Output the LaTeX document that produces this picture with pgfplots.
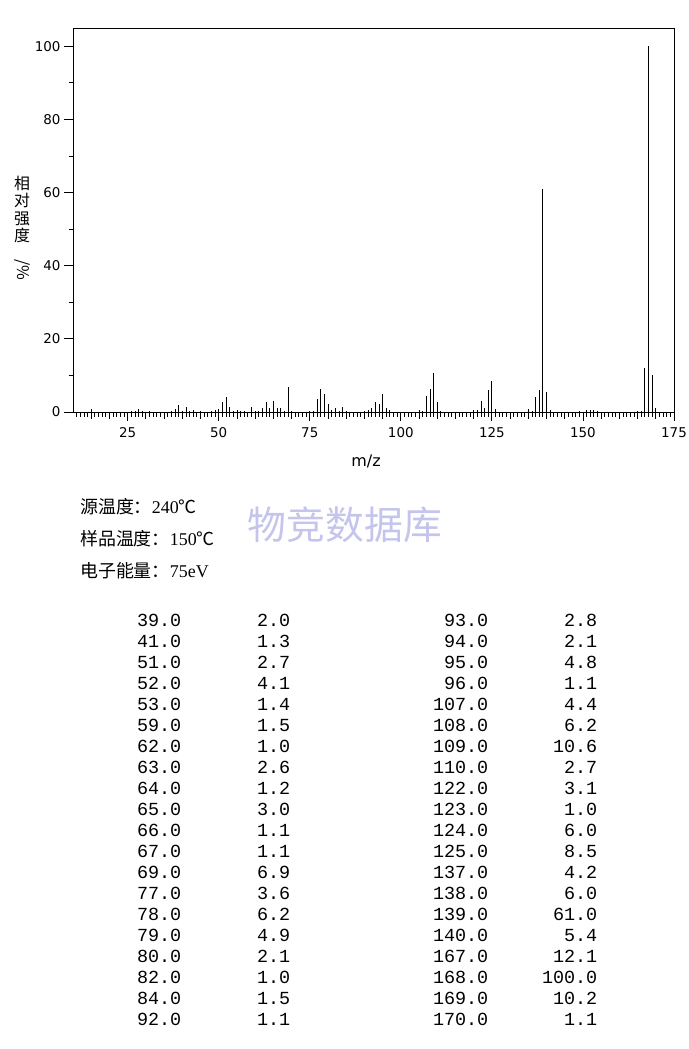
\documentclass[border=0pt]{standalone}
\usepackage{pgfplots}
\pgfplotsset{compat=1.18}
\usepackage{fontspec}
\setmainfont{DejaVu Sans}
\newfontfamily\cjk{Noto Sans CJK SC}
\newfontfamily\serifdig{Liberation Serif}
\newfontfamily\mono{Liberation Mono}
\definecolor{wm}{RGB}{196,196,236}

\begin{document}
\begin{tikzpicture}
\useasboundingbox (0,0) rectangle (689bp,-1049bp);
\begin{axis}[
    at={(73bp,-412bp)}, anchor=south west,
    scale only axis, width=601bp, height=384bp,
    xmin=10, xmax=175, ymin=0, ymax=105,
    axis line style={line width=0.8bp},
    tick pos=left, tick align=outside,
    xtick={25,50,...,175},
    minor xtick={11,...,174},
    extra x ticks={15,20,30,35,40,45,55,60,65,70,80,85,90,95,105,110,115,120,130,135,140,145,155,160,165,170},
    extra x tick labels={},
    extra x tick style={major tick length=6.5bp},
    ytick={0,20,...,100},
    minor ytick={10,30,...,90},
    major tick length=9bp, minor tick length=4.5bp,
    every tick/.style={black, line width=0.8bp},
    tick label style={font=\fontsize{13.5}{15}\selectfont},
    xticklabel style={yshift=-3bp},
    /pgf/number format/assume math mode=true,
    clip=false,
]
\addplot[ycomb, black, line width=0.8bp, mark=none] coordinates {
(15,0.8) (26,0.4) (27,0.4) (28,0.8) (29,0.4) (31,0.4) (37,0.4) (38,0.9)
(39,2.0) (40,0.4) (41,1.3) (42,0.4) (43,0.5) (45,0.4) (48,0.4) (49,0.5)
(50,0.9) (51,2.7) (52,4.1) (53,1.4) (54,0.4) (55,0.5) (56,0.4) (57,0.4)
(59,1.5) (60,0.4) (61,0.4) (62,1.0) (63,2.6) (64,1.2) (65,3.0) (66,1.1)
(67,1.1) (68,0.4) (69,6.9) (70,0.4) (75,0.4) (76,0.4) (77,3.6) (78,6.2)
(79,4.9) (80,2.1) (81,0.6) (82,1.0) (83,0.4) (84,1.5) (85,0.4) (90,0.4)
(91,0.6) (92,1.1) (93,2.8) (94,2.1) (95,4.8) (96,1.1) (97,0.6) (105,0.6)
(106,0.4) (107,4.4) (108,6.2) (109,10.6) (110,2.7) (111,0.4) (120,0.5)
(121,0.6) (122,3.1) (123,1.0) (124,6.0) (125,8.5) (126,0.9) (135,0.9)
(136,0.4) (137,4.2) (138,6.0) (139,61.0) (140,5.4) (141,0.5) (149,0.4)
(151,0.5) (152,0.5) (153,0.5) (154,0.4) (165,0.4) (166,0.4) (167,12.1)
(168,100.0) (169,10.2) (170,1.1)
};
\end{axis}

% axis labels
\node[font=\fontsize{16}{18}\selectfont] at (366bp,-461bp) {m/z};
\node[font=\cjk\fontsize{16}{17.5}\selectfont, align=center, inner sep=0pt]
    at (22bp,-228bp) {相\\对\\强\\度\\\rotatebox{-90}{/\%}};

% watermark
\node[font=\cjk\fontsize{39}{41}\selectfont, text=wm] at (345bp,-525bp) {物竞数据库};

% conditions
\node[anchor=base west, inner sep=0pt, font=\fontsize{18}{20}\selectfont]
    at (80bp,-513bp) {{\cjk 源温度：}{\serifdig 240}{\cjk ℃}};
\node[anchor=base west, inner sep=0pt, font=\fontsize{18}{20}\selectfont]
    at (80bp,-545bp) {{\cjk 样品温度：}{\serifdig 150}{\cjk ℃}};
\node[anchor=base west, inner sep=0pt, font=\fontsize{18}{20}\selectfont]
    at (80bp,-577bp) {{\cjk 电子能量：}{\serifdig 75eV}};

% peak table
\foreach \a/\b/\c/\d [count=\i from 0] in {
  39.0/2.0/93.0/2.8, 41.0/1.3/94.0/2.1, 51.0/2.7/95.0/4.8, 52.0/4.1/96.0/1.1,
  53.0/1.4/107.0/4.4, 59.0/1.5/108.0/6.2, 62.0/1.0/109.0/10.6, 63.0/2.6/110.0/2.7,
  64.0/1.2/122.0/3.1, 65.0/3.0/123.0/1.0, 66.0/1.1/124.0/6.0, 67.0/1.1/125.0/8.5,
  69.0/6.9/137.0/4.2, 77.0/3.6/138.0/6.0, 78.0/6.2/139.0/61.0, 79.0/4.9/140.0/5.4,
  80.0/2.1/167.0/12.1, 82.0/1.0/168.0/100.0, 84.0/1.5/169.0/10.2, 92.0/1.1/170.0/1.1} {
  \pgfmathsetmacro{\yy}{-626.5-21*\i}
  \node[anchor=base east, inner sep=0pt, font=\mono\fontsize{18.5}{21}\selectfont] at (181.5bp,\yy bp) {\a};
  \node[anchor=base east, inner sep=0pt, font=\mono\fontsize{18.5}{21}\selectfont] at (290.5bp,\yy bp) {\b};
  \node[anchor=base east, inner sep=0pt, font=\mono\fontsize{18.5}{21}\selectfont] at (488.5bp,\yy bp) {\c};
  \node[anchor=base east, inner sep=0pt, font=\mono\fontsize{18.5}{21}\selectfont] at (597.5bp,\yy bp) {\d};
}
\end{tikzpicture}
\end{document}
